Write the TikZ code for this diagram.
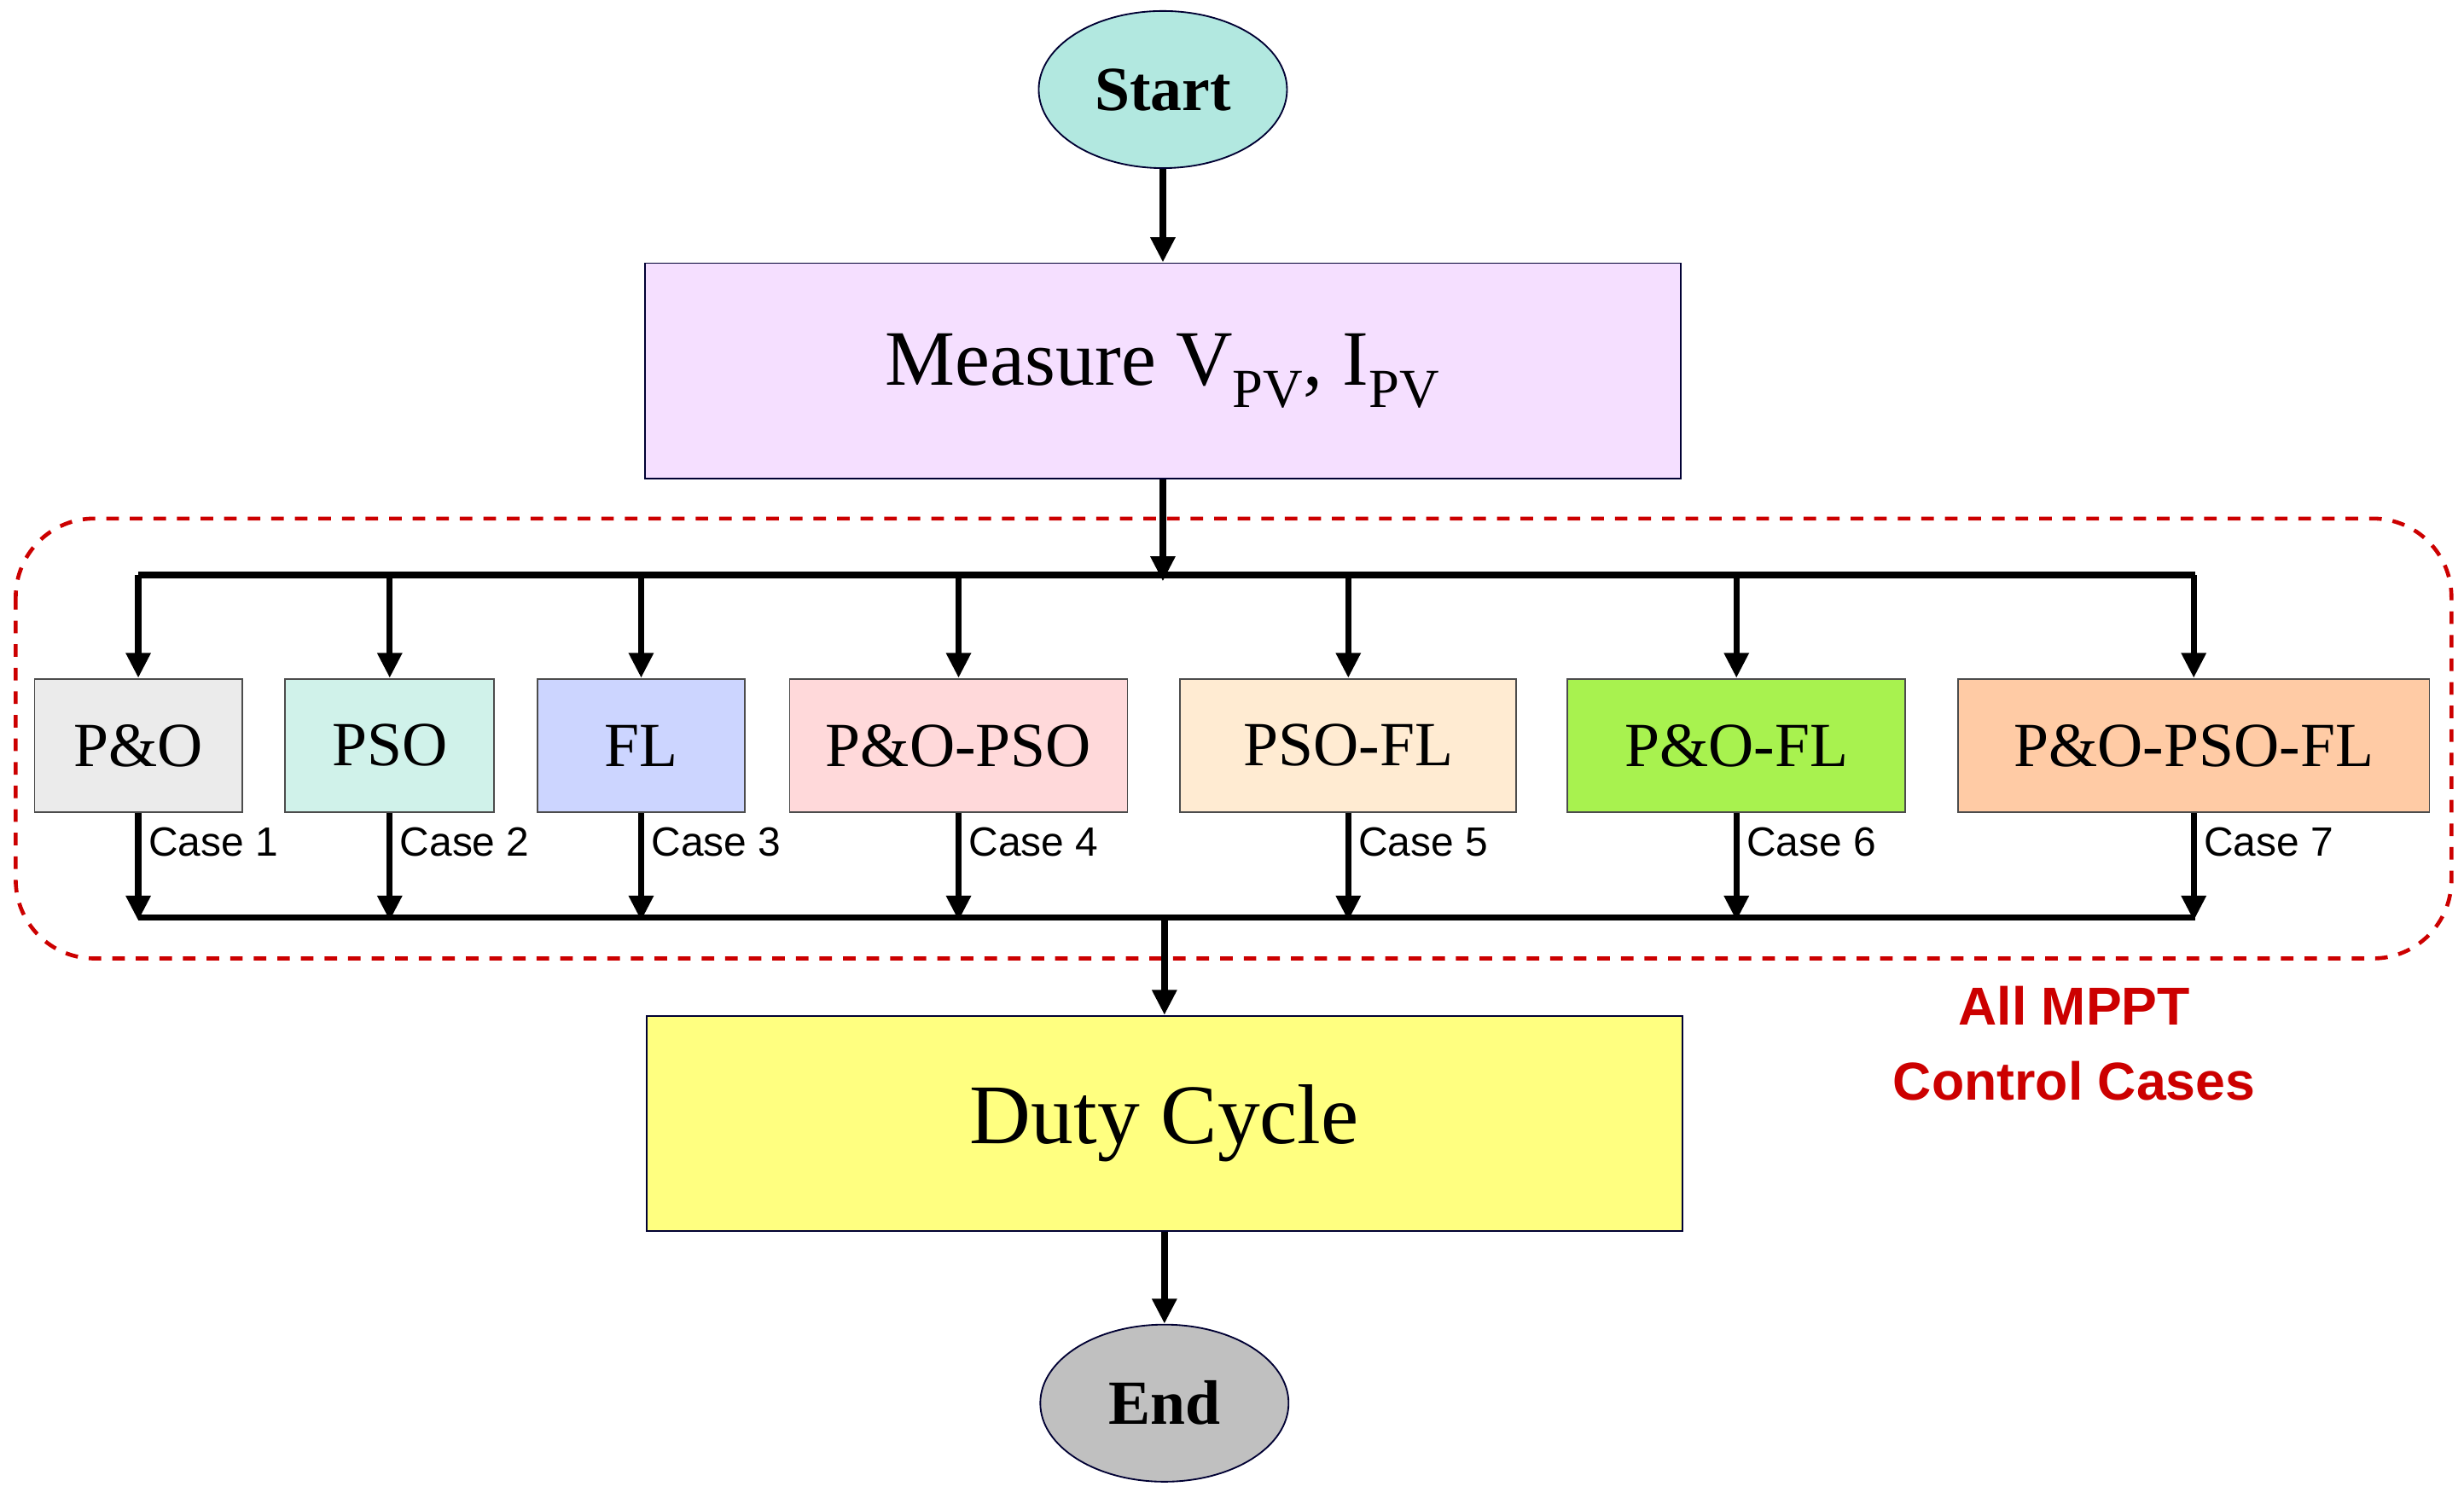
\documentclass[tikz,border=0pt]{standalone}
\usepackage{fontspec}
\setmainfont{Liberation Serif}
\newfontfamily\sansf{Liberation Sans}
\usetikzlibrary{arrows.meta,shapes.geometric}
\definecolor{cstart}{HTML}{B2E8E0}
\definecolor{cmeas}{HTML}{F5DFFF}
\definecolor{cduty}{HTML}{FFFF80}
\definecolor{cend}{HTML}{C0C0C0}
\definecolor{cred}{HTML}{CC0000}
\begin{document}
\begin{tikzpicture}[x=1pt,y=-1pt,
  arr/.style={line width=4pt,-{Triangle[length=16pt,width=15pt]}},
  bus/.style={line width=4pt},
  term/.style={ellipse,draw=black!80!blue,line width=1pt,minimum width=158pt,minimum height=100pt,font=\fontsize{40}{44}\selectfont\bfseries},
  big/.style={draw=black!80!blue,line width=1pt,minimum width=659pt,minimum height=137pt,font=\fontsize{50}{54}\selectfont},
  alg/.style={draw=black!70,line width=1pt,minimum height=85pt,font=\fontsize{40}{44}\selectfont},
  case/.style={font=\sansf\fontsize{26}{30}\selectfont,anchor=west}]
\useasboundingbox (0,0) rectangle (1568,957);
\draw[cred,line width=2.5pt,dash pattern=on 8pt off 7pt,rounded corners=50pt] (10,330) rectangle (1560,610);
\node[term,fill=cstart] (start) at (740,57) {Start};
\node[big,fill=cmeas] (meas) at (740,236) {Measure V\textsubscript{PV}, I\textsubscript{PV}};
\node[big,fill=cduty] (duty) at (741,715) {\fontsize{54}{58}\selectfont Duty Cycle};
\node[term,fill=cend] (end) at (741,893) {End};
\coordinate (tl) at (88,366); \coordinate (tr) at (1397,366); \coordinate (tm) at (740,366);
\coordinate (bl) at (88,584); \coordinate (br) at (1397,584); \coordinate (bm) at (741,584);
\draw[arr] (start) -- (meas);
\draw[arr] (meas) -- ([yshift=-4pt]tm);
\draw[bus] (tl) -- (tr);
\draw[bus] (bl) -- (br);
\draw[arr] (bm) -- (duty);
\draw[arr] (duty) -- (end);
\foreach \n/\x/\w/\c/\t/\k in {a/88/132/EBEBEB/P\&O/1, b/248/133/D0F2EA/PSO/2, c/408/132/CCD5FF/FL/3, d/610/215/FFD9DA/P\&O-PSO/4, e/858/214/FFEBD2/PSO-FL/5, f/1105/215/A8F24F/P\&O-FL/6, g/1396/300/FFCBA5/P\&O-PSO-FL/7}{
  \definecolor{tmp}{HTML}{\c}
  \node[alg,fill=tmp,minimum width=\w pt] (\n) at (\x,474.5) {\t};
  \coordinate (\n t) at (\x,366); \coordinate (\n b) at (\x,584);
  \draw[arr] (\n t) -- (\n);
  \draw[arr] (\n) -- ([yshift=-2pt]\n b);
  \node[case] (case\k) at (\x+3,536) {Case \k};
}
\node[font=\sansf\fontsize{34}{48}\selectfont\bfseries,text=cred,align=center] (lbl) at (1320,664) {All MPPT\\Control Cases};
\end{tikzpicture}
\end{document}
